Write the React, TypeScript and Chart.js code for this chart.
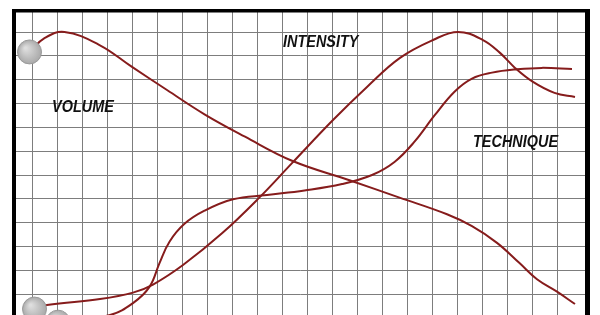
import React, { useEffect, useRef } from "react";
import { Chart, registerables } from "chart.js";

Chart.register(...registerables);

// Curves in grid units (x: one vertical grid line per unit, y: one horizontal grid line per unit)
const volumePoints: [number, number][] = [
  [-0.1, 10.17], [0.5, 10.75], [1.3, 11.01], [2.7, 10.46], [4.0, 9.54],
  [5.4, 8.57], [6.9, 7.55], [8.5, 6.62], [10.4, 5.6], [12.7, 4.78],
  [14.7, 4.05], [16.6, 3.35], [17.6, 2.85], [18.6, 2.15], [19.5, 1.3],
  [20.2, 0.62], [21.0, 0.1], [21.72, -0.42],
];

const intensityPoints: [number, number][] = [
  [0.1, -0.63], [0.6, -0.46], [2.72, -0.21], [4.04, 0.06], [4.84, 0.4],
  [6.04, 1.22], [7.6, 2.55], [9.12, 4.08], [10.4, 5.5], [12.04, 7.31],
  [13.4, 8.7], [14.72, 9.92], [16.04, 10.67], [17.04, 11.01], [18.04, 10.67],
  [18.72, 10.13], [19.32, 9.5], [20.04, 8.91], [20.9, 8.45], [21.72, 8.28],
];

const techniquePoints: [number, number][] = [
  [1.04, -1.18], [3.12, -0.88], [4.04, -0.38], [4.7, 0.3], [5.1, 1.3],
  [5.5, 2.2], [6.1, 2.95], [6.9, 3.5], [8.04, 3.98], [9.4, 4.16],
  [10.9, 4.35], [12.4, 4.62], [13.6, 5.0], [14.5, 5.55], [15.3, 6.4],
  [16.1, 7.5], [16.9, 8.5], [17.6, 9.05], [18.4, 9.3], [19.4, 9.44],
  [20.4, 9.5], [21.6, 9.45],
];

const xGridTicks: number[] = Array.from({ length: 22 }, (_, i) => i);
const yGridTicks: number[] = Array.from({ length: 12 }, (_, i) => i);

const seriesLabels = ["VOLUME", "INTENSITY", "TECHNIQUE"];
const labelAnchors: [number, number][] = [
  [0.8, 7.65],
  [10.04, 10.38],
  [17.64, 6.18],
];

const LINE_COLOR = "#861c1c";

const framePlugin = {
  id: "frame",
  afterDatasetsDraw(chart: any) {
    const { ctx, chartArea, scales } = chart;
    ctx.save();
    // text labels (condensed bold italic)
    ctx.fillStyle = "#111";
    ctx.font = "italic bold 17px 'Liberation Sans', Arial, sans-serif";
    ctx.textBaseline = "alphabetic";
    ctx.textAlign = "left";
    seriesLabels.forEach((t, i) => {
      const [xv, yv] = labelAnchors[i];
      ctx.save();
      ctx.translate(scales.x.getPixelForValue(xv), scales.y.getPixelForValue(yv));
      ctx.scale(0.85, 1);
      ctx.fillText(t, 0, 0);
      ctx.restore();
    });
    // black frame (left, top, right)
    ctx.fillStyle = "#000";
    const { left, top, right, bottom } = chartArea;
    ctx.fillRect(left - 2, top - 1.5, 4, bottom - top + 2);
    ctx.fillRect(left - 2, top - 1.5, right - left + 4.5, 3.5);
    ctx.fillRect(right - 2.5, top - 1.5, 5, bottom - top + 2);
    ctx.restore();
  },
};

function circleFill(context: any) {
  const chart = context.chart;
  const el = context.element;
  if (!el || el.x == null) return "#bdbdbd";
  const g = chart.ctx.createRadialGradient(el.x - 4, el.y - 4, 1, el.x, el.y, 12);
  g.addColorStop(0, "#dedede");
  g.addColorStop(1, "#a9a9a9");
  return g;
}

export default function App() {
  const ref = useRef<HTMLCanvasElement | null>(null);

  useEffect(() => {
    if (!ref.current) return;
    const toXY = (pts: [number, number][]) => pts.map(([x, y]) => ({ x, y }));
    const lineDs = (label: string, pts: [number, number][]) => ({
      label,
      data: toXY(pts),
      borderColor: LINE_COLOR,
      borderWidth: 2,
      pointRadius: 0,
      fill: false,
      tension: 0.4,
      order: 2,
    });
    const chart = new Chart(ref.current, {
      type: "line",
      data: {
        datasets: [
          lineDs("Volume", volumePoints),
          lineDs("Intensity", intensityPoints),
          lineDs("Technique", techniquePoints),
          {
            label: "Start",
            type: "scatter" as any,
            data: [volumePoints[0], intensityPoints[0], techniquePoints[0]].map(([x, y]) => ({ x, y })),
            pointRadius: 12,
            pointBackgroundColor: circleFill as any,
            pointBorderColor: "#9a9a9a",
            pointBorderWidth: 1,
            showLine: false,
            order: 0,
          } as any,
        ],
      },
      options: {
        responsive: true,
        maintainAspectRatio: false,
        animation: false,
        events: [],
        layout: { autoPadding: false, padding: { left: 14, right: 12.5, top: 10.5, bottom: 0 } },
        plugins: {
          legend: { display: false },
          tooltip: { enabled: false },
        },
        scales: {
          x: {
            type: "linear",
            min: -0.72,
            max: 22.22,
            afterBuildTicks: (scale: any) => {
              scale.ticks = xGridTicks.map((v) => ({ value: v }));
            },
            ticks: { display: false },
            grid: { color: "#7d7d7d", lineWidth: 1, drawTicks: false },
            border: { display: false },
          },
          y: {
            type: "linear",
            min: -0.88,
            max: 11.91,
            afterBuildTicks: (scale: any) => {
              scale.ticks = yGridTicks.map((v) => ({ value: v }));
            },
            ticks: { display: false },
            grid: { color: "#7d7d7d", lineWidth: 1, drawTicks: false },
            border: { display: false },
          },
        },
      },
      plugins: [framePlugin],
    });
    return () => chart.destroy();
  }, []);

  return (
    <div style={{ position: "absolute", left: 0, top: 0, width: 600, height: 315, background: "#fff" }}>
      <canvas ref={ref} />
    </div>
  );
}
